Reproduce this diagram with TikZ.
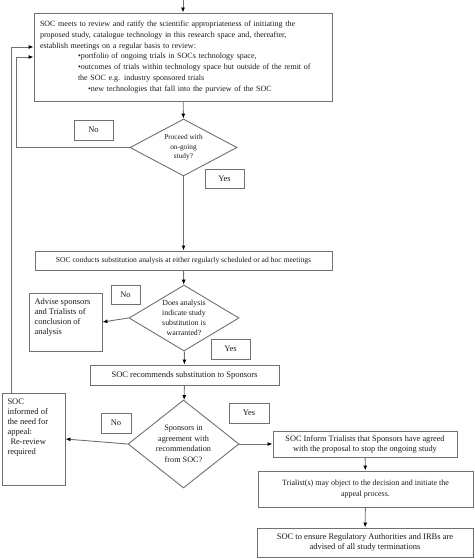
\documentclass[tikz,border=0pt]{standalone}
\usepackage{fontspec}
\setmainfont{Liberation Serif}
\usepackage{tikz}
\usetikzlibrary{arrows.meta,shapes.geometric}
\definecolor{cInk}{HTML}{1A1A1A}
\definecolor{cLine}{HTML}{707070}
\tikzset{
  pbox/.style={draw=cLine,line width=0.9pt,align=center,text=cInk,inner sep=3pt,font=\fontsize{8}{9.6}\selectfont},
  dec/.style={draw=cLine,line width=0.9pt,shape=diamond,aspect=#1,align=center,inner sep=0pt,text=cInk},
  ans/.style={draw=cLine,line width=0.9pt,inner sep=0pt,text=cInk,font=\fontsize{8.5}{10}\selectfont},
  arr/.style={-{Latex[length=5pt,width=4pt,color=black]},line width=0.9pt,color=cLine},
}

\begin{document}
\begin{tikzpicture}[x=1pt,y=-1pt]
  \useasboundingbox (0,0) rectangle (474,559);
  % main column
  \coordinate (start) at (183,0);
  \node[pbox,minimum width=298,minimum height=88,text width=286,align=left,font=\fontsize{8}{10.8}\selectfont] (meet) at (183,57) {SOC meets to review and ratify the scientific appropriateness of initiating the\\
    proposed study, catalogue technology in this research space and, thereafter,\\
    establish meetings on a regular basis to review:\\
    \hspace*{38pt}\textbullet portfolio of ongoing trials in SOCs technology space,\\
    \hspace*{38pt}\textbullet outcomes of trials within technology space but outside of the remit of\\
    \hspace*{38pt}the SOC e.g. industry sponsored trials\\
    \hspace*{48pt}\textbullet new technologies that fall into the purview of the SOC};
  \node[dec=1.88,minimum width=107,minimum height=57,font=\fontsize{7.3}{9.3}\selectfont] (proceed) at (183.5,147.5) {Proceed with\\on-going\\study?};
  \node[pbox,minimum width=297,minimum height=19,font=\fontsize{7.6}{9}\selectfont] (analysis) at (183.5,260.5) {SOC conducts substitution analysis at either regularly scheduled or ad hoc meetings};
  \node[dec=1.67,minimum width=110,minimum height=66,font=\fontsize{7.8}{9.8}\selectfont] (warrant) at (184,318) {Does analysis\\indicate study\\substitution is\\warranted?};
  \node[pbox,minimum width=189,minimum height=20,font=\fontsize{8.5}{10}\selectfont] (recommend) at (184.5,375) {SOC recommends substitution to Sponsors};
  \node[dec=1.26,minimum width=111,minimum height=88,font=\fontsize{8.2}{10.6}\selectfont] (agree) at (183.5,444) {Sponsors in\\agreement with\\recommendation\\from SOC?};
  % right column
  \node[pbox,minimum width=184,minimum height=26,font=\fontsize{8.3}{10}\selectfont] (inform) at (365,444) {SOC Inform Trialists that Sponsors have agreed\\with the proposal to stop the ongoing study};
  \node[pbox,minimum width=215,minimum height=36,font=\fontsize{8}{11}\selectfont] (object) at (365.5,489) {Trialist(s) may object to the decision and initiate the\\appeal process.};
  \node[pbox,minimum width=216,minimum height=29,font=\fontsize{8.5}{10.5}\selectfont] (ensure) at (365,542.5) {SOC to ensure Regulatory Authorities and IRBs are\\advised of all study terminations};
  % left column
  \node[pbox,minimum width=73,minimum height=58,font=\fontsize{8.5}{9.7}\selectfont] (advise) at (65.5,322) {\parbox[c][46pt][t]{62pt}{\raggedright Advise sponsors\\and Trialists of\\conclusion of\\analysis}};
  \node[pbox,minimum width=63,minimum height=92,font=\fontsize{8.5}{10}\selectfont] (appeal) at (33.5,439) {\parbox[c][80pt][t]{52pt}{\raggedright SOC\\informed of\\the need for\\appeal:\\\hspace*{3pt}Re-review\\required}};
  % answers
  \node[ans,minimum width=39,minimum height=20] (no1) at (93.5,130) {No};
  \node[ans,minimum width=39,minimum height=19] (yes1) at (224.5,178.5) {Yes};
  \node[ans,minimum width=29,minimum height=19] (no2) at (125.5,294.5) {No};
  \node[ans,minimum width=39,minimum height=20] (yes2) at (230.5,349) {Yes};
  \node[ans,minimum width=30,minimum height=20] (no3) at (116,423) {No};
  \node[ans,minimum width=40,minimum height=20] (yes3) at (249,413) {Yes};
  % loop-back lines
  \coordinate (loopin) at (16,57);
  \coordinate (loopout) at (11,47);
  \draw[arr] (start) -- (meet);
  \draw[arr] (meet) -- (proceed);
  \draw[arr] (proceed.west) -- (proceed.west -| loopin) |- (meet.west |- loopin);
  \draw[arr] (appeal.north -| loopout) |- (meet.west |- loopout);
  \draw[arr] (proceed) -- (analysis);
  \draw[arr] (analysis) -- (warrant);
  \draw[arr] (warrant.west) -- (advise.east);
  \draw[arr] (warrant) -- (recommend);
  \draw[arr] (recommend) -- (agree);
  \draw[arr] (agree.west) -- (appeal.east);
  \draw[arr] (agree.east) -- (inform.west);
  \draw[arr] (inform) -- (object);
  \draw[arr] (object) -- (ensure);
\end{tikzpicture}
\end{document}
